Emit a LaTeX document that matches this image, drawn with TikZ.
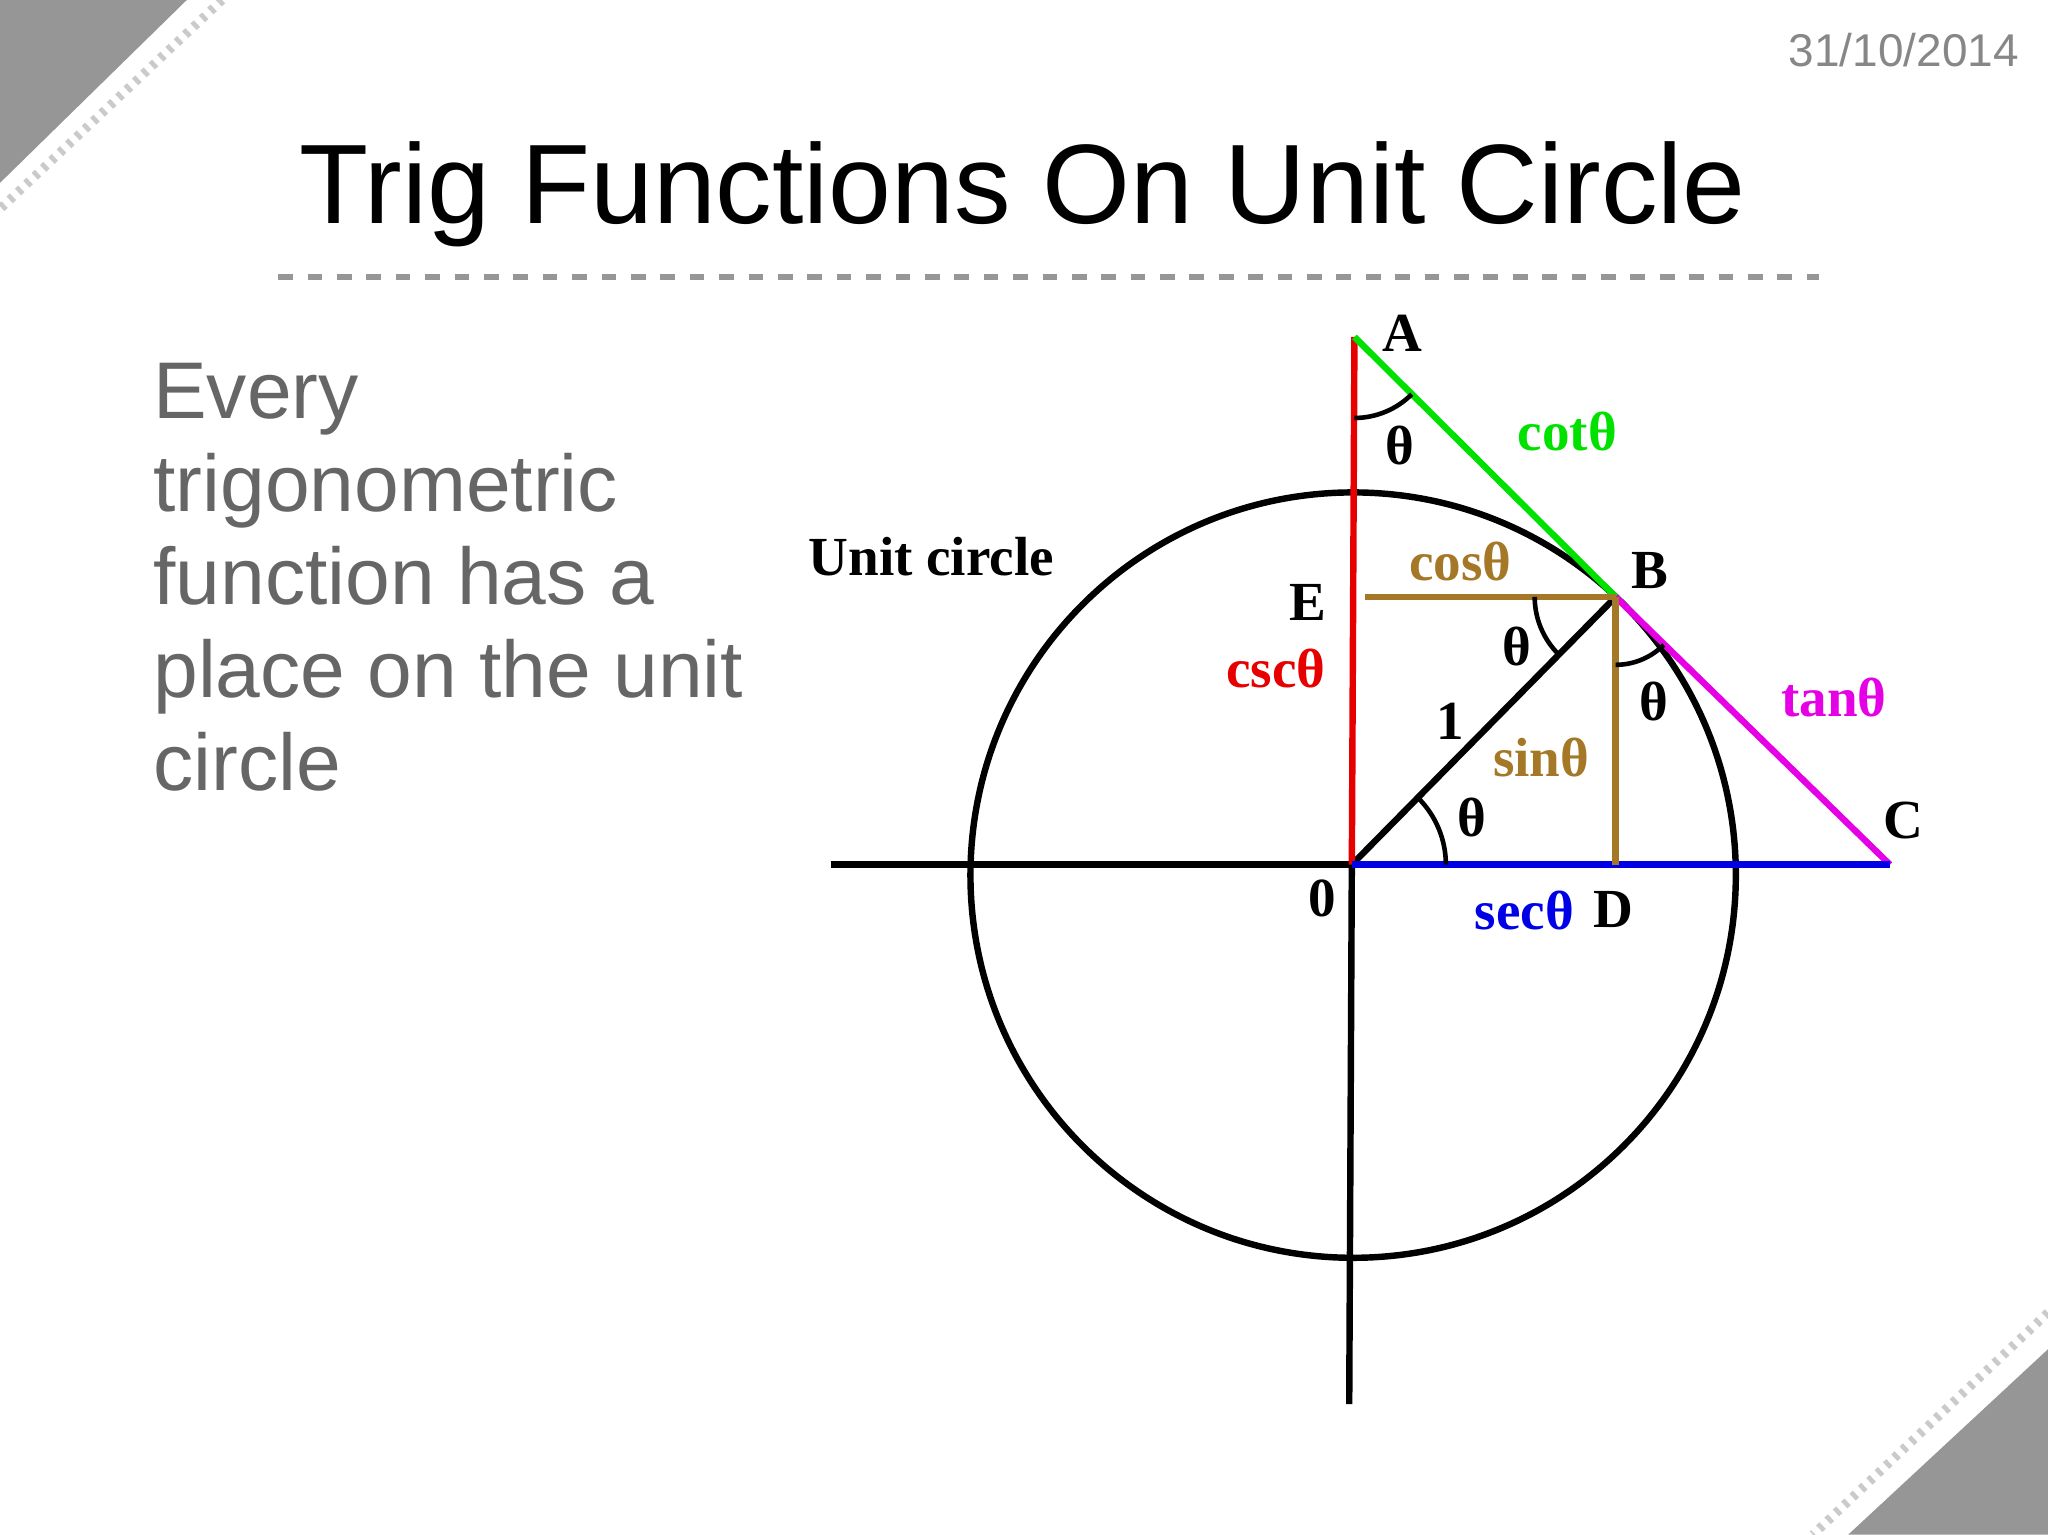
\documentclass[tikz,border=0pt]{standalone}
\usepackage{fontspec}
\setmainfont{Liberation Sans}
\newfontfamily\lbl{Liberation Serif}
\begin{document}
\begin{tikzpicture}[x=0.01cm,y=-0.01cm,
  lab/.style={font=\lbl\bfseries\fontsize{12}{12}\selectfont,inner sep=1pt},
  ln/.style={line width=1.4pt},
  ang/.style={line width=1pt}]
\definecolor{gr}{RGB}{150,150,150}
\definecolor{brn}{RGB}{165,120,40}
\definecolor{grn}{RGB}{0,225,0}
\definecolor{mag}{RGB}{230,0,230}
\definecolor{blu}{RGB}{0,0,230}
\definecolor{rd}{RGB}{230,0,0}
\useasboundingbox (0,0) rectangle (1568,1175);
% corners
\fill[gr] (0,0) -- (143,0) -- (0,140) -- cycle;
\draw[gr!50,line width=2pt,dash pattern=on 1pt off 1.5pt] (170,0) -- (0,160);
\fill[gr] (1568,1033) -- (1568,1175) -- (1415,1175) -- cycle;
\draw[gr!50,line width=2pt,dash pattern=on 1pt off 1.5pt] (1568,1005) -- (1388,1175);
% header
\node[anchor=east,text=gr!90!black,font=\fontsize{10}{12}\selectfont] (date) at (1558,38) {31/10/2014};
\node[font=\fontsize{24.6}{30}\selectfont] (title) at (783,149) {Trig Functions On Unit Circle};
\draw[gr,line width=1.3pt,dash pattern=on 3.2pt off 3.2pt] (213,212) -- (1393,212);
\node[anchor=north west,align=left,text=black!60,font=\fontsize{17.5}{20.2}\selectfont] (body) at (105,266)
 {Every\\trigonometric\\function has a\\place on the unit\\circle};
% diagram
\coordinate (O) at (1035,662);
\coordinate (Oc) at (1036,670);
\coordinate (A) at (1037,258);
\coordinate (B) at (1237,457);
\coordinate (C) at (1447,662);
\coordinate (D) at (1237,662);
\coordinate (E) at (1045,457);
\coordinate (L) at (636,662);
\coordinate (Bot) at (1033,1075);
\draw[ln] (Oc) circle [radius=293];
\draw[ln] (L) -- (O);
\draw[ln] (O) -- (Bot);
\draw[ln] (O) -- (B);
\draw[ln,rd] (O) -- (A);
\draw[ln,grn] (A) -- (B);
\draw[ln,mag] (B) -- (C);
\draw[ln,blu] (O) -- (C);
\draw[ln,brn] (E) -- (B);
\draw[ln,brn] (B) -- (D);
% angle arcs
\draw[ang] (1035,662) ++(0:72) arc[start angle=0,end angle=-45,radius=72];
\draw[ang] (1037,258) ++(90:62) arc[start angle=90,end angle=45,radius=62];
\draw[ang] (1237,457) ++(180:62) arc[start angle=180,end angle=135,radius=62];
\draw[ang] (1237,457) ++(90:52) arc[start angle=90,end angle=45,radius=52];
% labels
\node[lab] (lA) at (1074,255) {A};
\node[lab] (lB) at (1263,437) {B};
\node[lab] (lC) at (1457,628) {C};
\node[lab] (lD) at (1235,696) {D};
\node[lab] (lE) at (1001,461) {E};
\node[lab] (lO) at (1012,688) {0};
\node[lab] (l1) at (1110,552) {1};
\node[lab] (uc) at (713,426) {Unit circle};
\node[lab] (t1) at (1072,341) {θ};
\node[lab] (t2) at (1161,495) {θ};
\node[lab] (t3) at (1266,537) {θ};
\node[lab] (t4) at (1127,626) {θ};
\node[lab,text=grn] (cot) at (1200,330) {cotθ};
\node[lab,text=brn] (cos) at (1118,430) {cosθ};
\node[lab,text=rd] (csc) at (977,512) {cscθ};
\node[lab,text=mag] (tan) at (1404,534) {tanθ};
\node[lab,text=brn] (sin) at (1180,580) {sinθ};
\node[lab,text=blu] (sec) at (1167,697) {secθ};
\end{tikzpicture}
\end{document}
